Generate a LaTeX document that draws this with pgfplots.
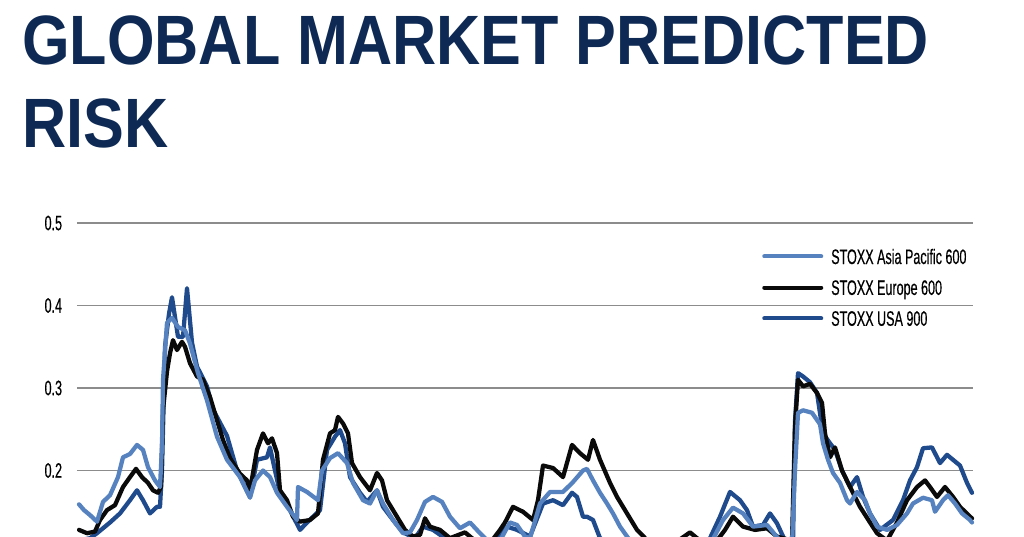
\documentclass[border=0pt]{standalone}
\usepackage{fontspec}
\setmainfont{Liberation Sans}
\newfontfamily\cond{Liberation Sans}[FakeStretch=0.6, FakeBold=0.4]
\newfontfamily\titlefont{Liberation Sans}[FakeStretch=0.875]
\usepackage{pgfplots}
\usepackage{pgfplotstable}
\pgfplotsset{compat=1.18}
\definecolor{navy}{HTML}{0E2A54}
\definecolor{asia}{HTML}{5683BF}
\definecolor{usa}{HTML}{1F4A8C}
\definecolor{eur}{HTML}{0A0A0A}
\definecolor{gridc}{HTML}{8C8C8C}

\pgfplotstableread{
x v
79 0.159
84 0.152
90 0.146
97 0.138
103 0.162
110 0.170
118 0.192
123 0.216
130 0.220
137 0.231
143 0.225
148 0.204
155 0.188
160 0.180
162 0.230
163 0.310
167 0.379
172 0.385
178 0.374
185 0.370
190 0.354
198 0.318
207 0.285
217 0.241
227 0.213
240 0.192
250 0.167
255 0.188
263 0.200
270 0.192
277 0.173
287 0.156
297 0.140
298 0.180
307 0.174
318 0.164
322 0.200
330 0.215
338 0.221
347 0.209
353 0.185
363 0.164
370 0.160
377 0.176
383 0.160
393 0.140
403 0.124
410 0.125
417 0.140
425 0.162
433 0.168
442 0.162
450 0.144
460 0.130
470 0.137
480 0.124
490 0.112
500 0.115
510 0.137
517 0.134
525 0.120
530 0.118
540 0.160
550 0.174
563 0.174
573 0.186
583 0.200
587 0.202
593 0.188
600 0.173
607 0.160
613 0.148
620 0.132
630 0.115
650 0.100
670 0.095
690 0.098
710 0.110
723 0.140
733 0.155
743 0.148
753 0.132
767 0.134
780 0.115
792 0.110
795 0.200
798 0.270
803 0.273
812 0.270
820 0.256
823 0.233
828 0.213
833 0.197
840 0.185
847 0.164
850 0.160
857 0.174
865 0.164
870 0.148
877 0.132
887 0.128
897 0.134
907 0.148
913 0.160
923 0.167
932 0.164
935 0.150
943 0.164
948 0.170
955 0.160
962 0.148
970 0.140
972 0.137
}\asiadata

\pgfplotstableread{
x v
79 0.128
87 0.124
95 0.126
100 0.140
107 0.152
115 0.158
123 0.180
130 0.192
136 0.202
142 0.192
148 0.185
153 0.176
158 0.173
161 0.180
163 0.273
167 0.320
170 0.342
173 0.358
177 0.346
182 0.356
185 0.350
190 0.330
197 0.314
203 0.310
210 0.289
217 0.261
223 0.237
230 0.215
240 0.196
247 0.188
250 0.176
257 0.225
263 0.245
268 0.233
272 0.239
277 0.221
280 0.176
287 0.164
293 0.144
300 0.138
310 0.140
318 0.148
323 0.213
330 0.245
335 0.249
338 0.265
343 0.257
348 0.245
352 0.209
360 0.192
370 0.176
377 0.197
382 0.188
387 0.164
397 0.144
405 0.128
413 0.120
420 0.122
425 0.142
430 0.132
440 0.128
450 0.118
465 0.125
475 0.115
490 0.112
500 0.128
505 0.137
513 0.156
523 0.150
533 0.140
538 0.164
543 0.206
553 0.203
563 0.192
572 0.231
580 0.221
588 0.213
593 0.237
600 0.213
610 0.185
617 0.168
627 0.148
637 0.128
650 0.112
670 0.108
690 0.125
700 0.115
715 0.112
725 0.128
733 0.144
743 0.132
755 0.128
767 0.130
777 0.120
792 0.115
795 0.253
798 0.310
803 0.302
810 0.305
817 0.294
822 0.282
825 0.245
830 0.216
835 0.228
842 0.200
850 0.180
860 0.156
870 0.137
877 0.124
887 0.115
897 0.137
907 0.164
917 0.180
925 0.188
930 0.180
937 0.168
945 0.180
953 0.168
960 0.156
970 0.144
972 0.142
}\eurdata

\pgfplotstableread{
x v
79 0.115
90 0.118
97 0.124
110 0.137
120 0.148
130 0.164
137 0.176
143 0.164
150 0.148
157 0.156
160 0.156
162 0.200
165 0.350
169 0.390
172 0.410
175 0.386
178 0.362
183 0.362
187 0.421
192 0.355
197 0.326
207 0.302
213 0.274
220 0.258
227 0.242
237 0.200
250 0.168
257 0.213
267 0.216
270 0.228
275 0.200
280 0.173
290 0.152
300 0.128
307 0.137
320 0.152
327 0.225
335 0.241
340 0.249
345 0.233
350 0.192
360 0.173
367 0.162
377 0.176
383 0.156
393 0.140
403 0.125
415 0.118
423 0.132
433 0.128
445 0.118
460 0.112
480 0.110
495 0.112
507 0.132
517 0.128
530 0.120
543 0.160
553 0.164
563 0.158
572 0.173
577 0.168
583 0.144
587 0.144
593 0.140
600 0.118
620 0.105
650 0.095
680 0.095
705 0.105
720 0.144
730 0.174
740 0.164
747 0.152
753 0.132
763 0.134
770 0.148
777 0.136
785 0.115
793 0.112
795 0.260
798 0.318
803 0.314
810 0.307
817 0.294
823 0.245
830 0.233
835 0.225
842 0.200
850 0.180
857 0.192
863 0.168
870 0.148
880 0.128
893 0.140
903 0.164
910 0.188
917 0.204
923 0.227
932 0.228
940 0.209
947 0.219
953 0.213
960 0.206
967 0.185
972 0.173
}\usadata

\begin{document}
\begin{tikzpicture}
\path[use as bounding box] (0pt,0pt) rectangle (768pt,-402pt);
\clip (0pt,0pt) rectangle (768pt,-402pt);
\node[anchor=base west, inner sep=0pt, text=navy, font=\titlefont\bfseries\fontsize{52.4}{52.4}\selectfont] at (16.5pt,-48pt) {GLOBAL MARKET PREDICTED};
\node[anchor=base west, inner sep=0pt, text=navy, font=\titlefont\bfseries\fontsize{52.4}{52.4}\selectfont] at (16.5pt,-110.25pt) {RISK};
\begin{axis}[
  at={(57.75pt,-167.25pt)}, anchor=north west,
  scale only axis, width=672pt, height=309.375pt,
  xmin=77, xmax=973, ymin=0, ymax=0.5,
  axis line style={draw=none},
  xtick=\empty,
  ytick={0.2,0.3,0.4,0.5},
  yticklabels={0.2,0.3,0.4,0.5},
  major tick length=0pt,
  ymajorgrids,
  grid style={gridc, line width=1pt},
  yticklabel style={font=\cond\fontsize{15.7}{16}\selectfont, inner sep=0pt, xshift=-11pt},
  clip=false,
  legend style={at={(rel axis cs:0.7645,0.938)}, anchor=north west, draw=none, fill=none, inner sep=0pt,
    font=\cond\fontsize{15.7}{16}\selectfont, row sep=12.2pt,
    nodes={inner sep=0pt, text depth=0pt}},
  legend cell align=left,
  legend image code/.code={\draw[#1, line width=3pt, line cap=round] (1.5pt,0pt) -- (44.25pt,0pt);},
  every axis plot/.append style={line width=3.2pt, line join=round, line cap=round},
]
\addlegendimage{asia}
\addlegendentry{\hspace{6pt}STOXX Asia Pacific 600}
\addlegendimage{eur}
\addlegendentry{\hspace{6pt}STOXX Europe 600}
\addlegendimage{usa}
\addlegendentry{\hspace{6pt}STOXX USA 900}
\addplot[usa, forget plot] table[x=x, y=v] {\usadata};
\addplot[eur, forget plot] table[x=x, y=v] {\eurdata};
\addplot[asia, forget plot] table[x=x, y=v] {\asiadata};
\end{axis}
\end{tikzpicture}
\end{document}
